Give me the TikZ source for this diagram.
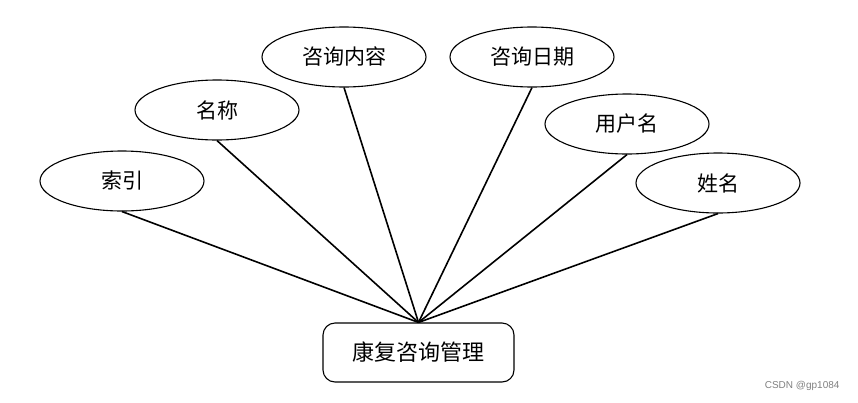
\documentclass[tikz,border=0pt]{standalone}
\usepackage{fontspec}
\usetikzlibrary{shapes.geometric}
\newfontfamily\cjk{Noto Sans CJK SC}
\setsansfont{Liberation Sans}
\begin{document}
\begin{tikzpicture}[x=1pt, y=-1pt,
        attr/.style={ellipse, draw, line width=1.1pt, minimum width=164pt, minimum height=60pt, inner sep=0pt, font=\cjk\fontsize{21}{21}\selectfont},
        entity/.style={rectangle, rounded corners=12pt, draw, line width=1.1pt, minimum width=191pt, minimum height=59pt, font=\cjk\fontsize{22}{22}\selectfont},
        link/.style={line width=1.6pt}]
        \useasboundingbox (0,0) rectangle (858,402);
        \node[entity] (mgmt) at (418.5,352.5) {康复咨询管理};
        \node[attr] (idx) at (122,181) {索引};
        \node[attr] (name) at (217,110) {名称};
        \node[attr] (content) at (344,57) {咨询内容};
        \node[attr] (date) at (532,57) {咨询日期};
        \node[attr] (user) at (627,124) {用户名};
        \node[attr] (real) at (718,183) {姓名};
        \foreach \a in {idx,name,content,date,user,real}{
            \draw[link] (\a.south)--(mgmt.north);
        }
        \node[anchor=east, text=gray, font=\sffamily\fontsize{10}{10}\selectfont] (mark) at (843,386) {CSDN @gp1084};
    \end{tikzpicture}
\end{document}
